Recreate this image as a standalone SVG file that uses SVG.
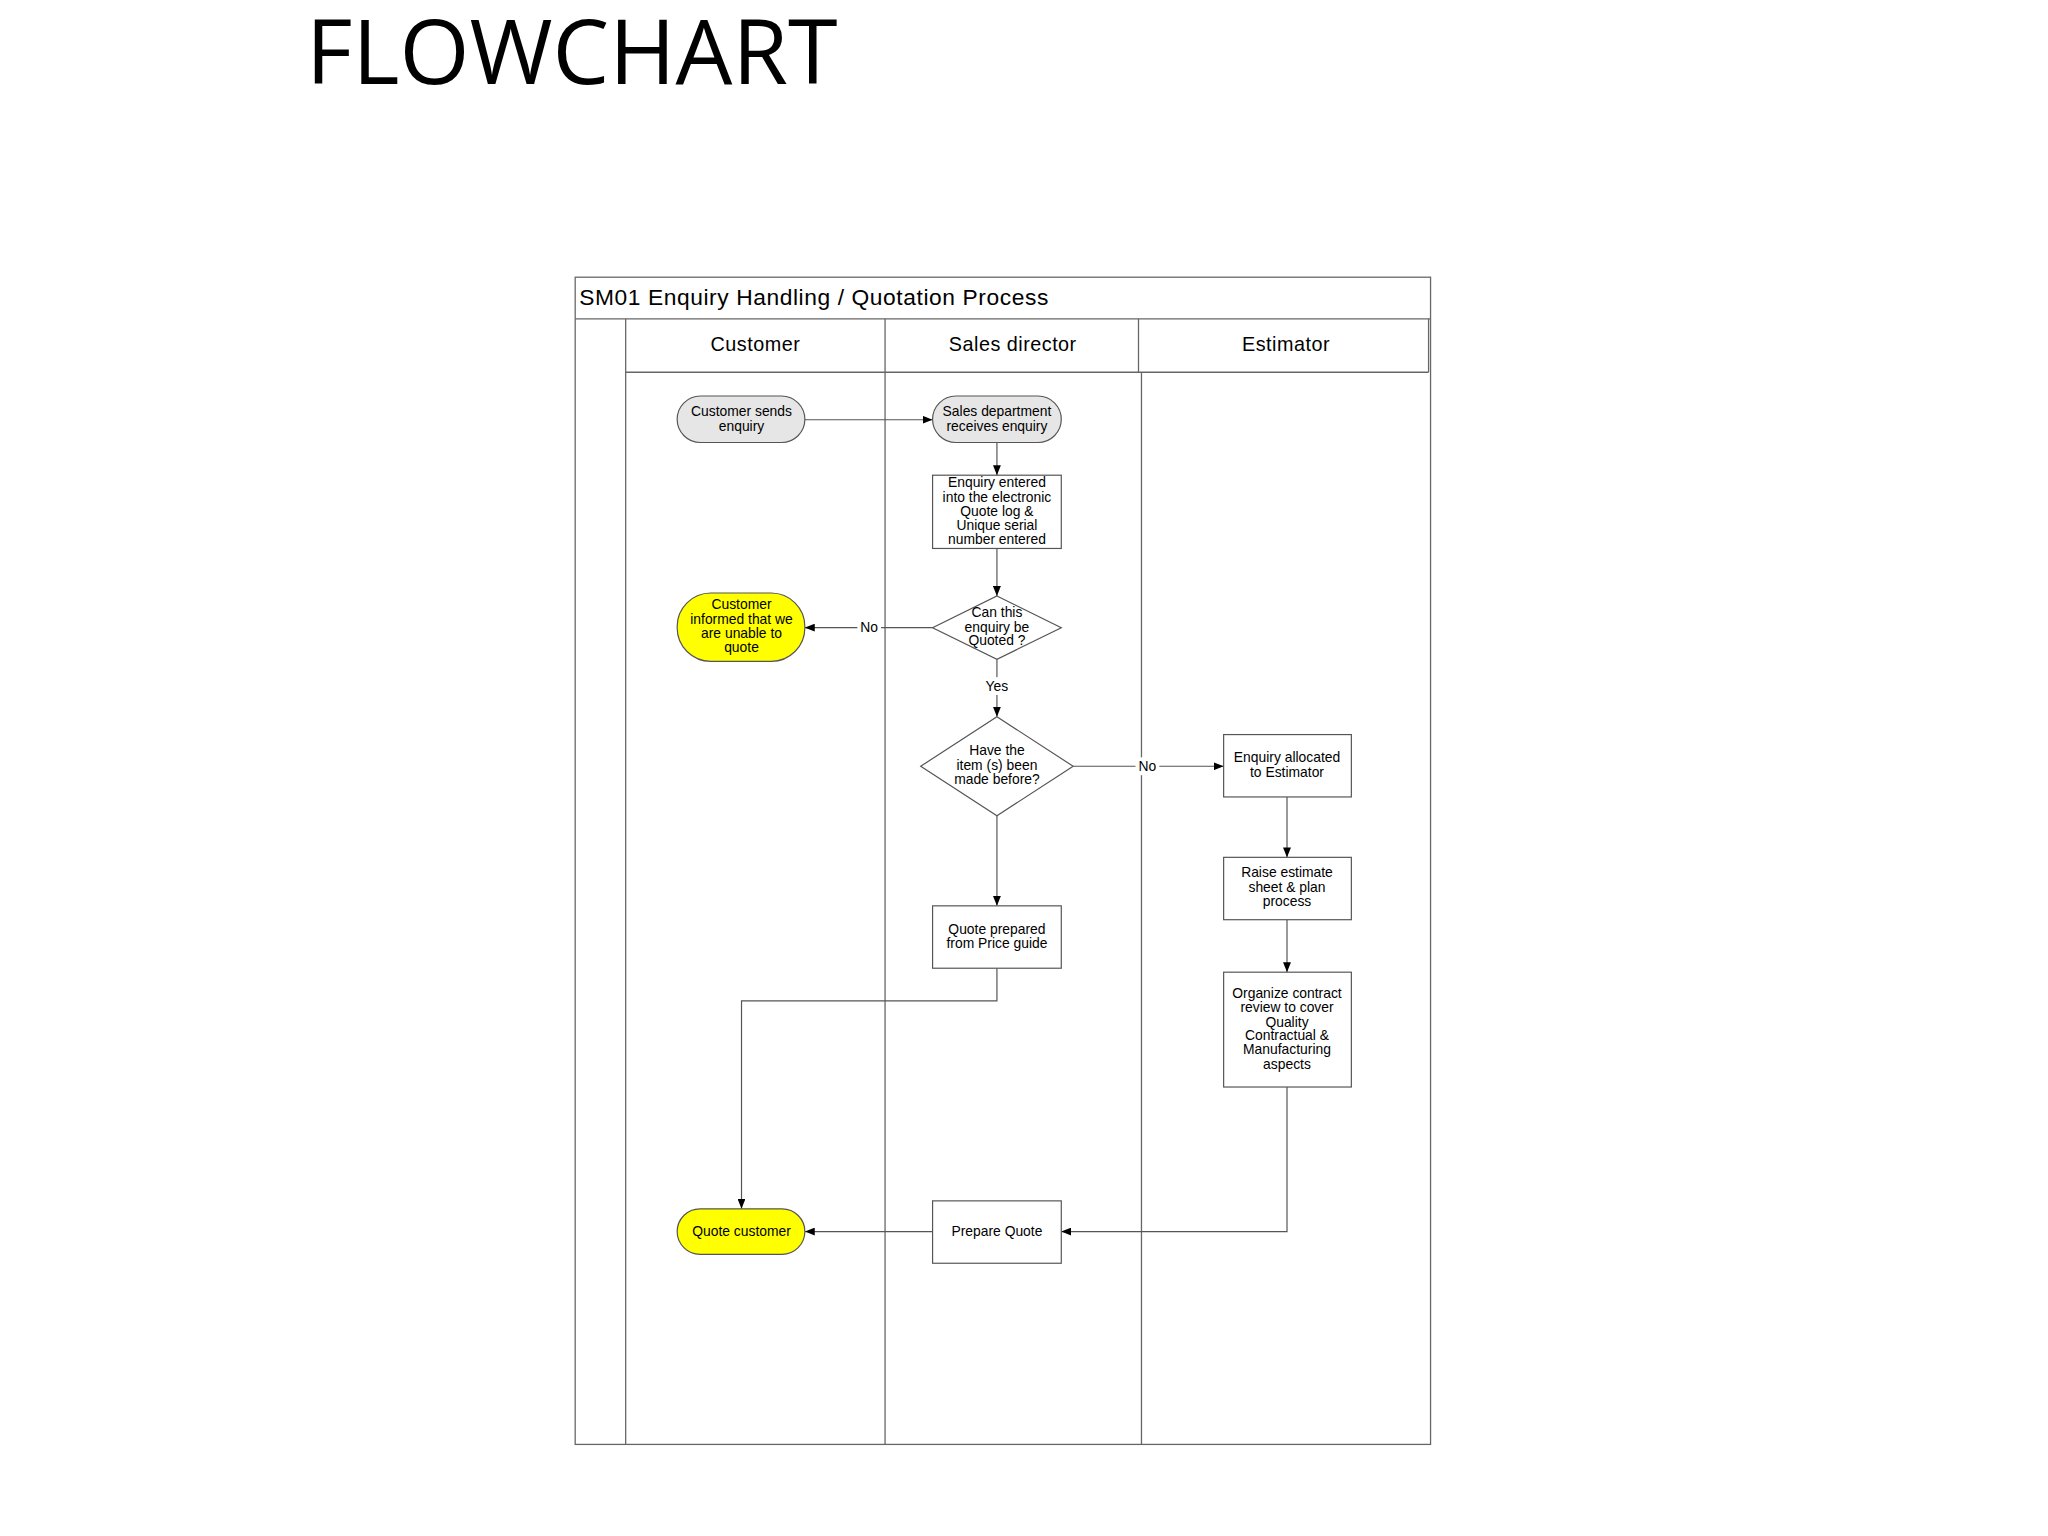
<svg xmlns="http://www.w3.org/2000/svg" width="2048" height="1536" viewBox="0 0 2048 1536">
<defs>
<marker id="ah" markerWidth="10" markerHeight="8" refX="10" refY="4" orient="auto" markerUnits="userSpaceOnUse"><path d="M0,0 L10,4 L0,8 z" fill="#000"/></marker>
<style>
.f{fill:none;stroke:#666;stroke-width:1.3}
.n{stroke:#555;stroke-width:1.2}
.t{font-family:"Liberation Sans",Arial,sans-serif;font-size:14px;fill:#000;text-anchor:middle}
.h{font-family:"Liberation Sans",Arial,sans-serif;font-size:20px;fill:#000;text-anchor:middle;letter-spacing:0.5px}
.c{fill:none;stroke:#555;stroke-width:1.2;marker-end:url(#ah)}
.l{font-family:"Liberation Sans",Arial,sans-serif;font-size:14px;fill:#000;text-anchor:middle}
</style>
</defs>
<rect width="2048" height="1536" fill="#fff"/>
<text x="306" y="84" font-family="Open Sans,Liberation Sans,sans-serif" font-size="90" fill="#000">FLOWCHART</text>
<g transform="scale(0.99)">
<g id="pool">
<rect class="f" x="581" y="280" width="864" height="1179"/>
<line class="f" x1="581" y1="322" x2="1445" y2="322"/>
<text x="585" y="308" font-family="Liberation Sans,Arial,sans-serif" font-size="23" letter-spacing="0.6">SM01  Enquiry Handling / Quotation Process</text>
<line class="f" x1="632" y1="376" x2="1443" y2="376"/>
<line class="f" x1="632" y1="322" x2="632" y2="1459"/>
<line class="f" x1="894" y1="322" x2="894" y2="1459"/>
<line class="f" x1="1150" y1="322" x2="1150" y2="376"/>
<line class="f" x1="1153" y1="376" x2="1153" y2="1459"/>
<line class="f" x1="1443" y1="322" x2="1443" y2="376"/>
<text class="h" x="763" y="355">Customer</text>
<text class="h" x="1023" y="355">Sales director</text>
<text class="h" x="1299" y="355">Estimator</text>
</g>
<g id="connectors">
<line class="c" x1="813" y1="424" x2="942" y2="424"/>
<line class="c" x1="1007" y1="447" x2="1007" y2="480"/>
<line class="c" x1="1007" y1="554" x2="1007" y2="602"/>
<line class="c" x1="942" y1="634" x2="813" y2="634"/>
<line class="c" x1="1007" y1="666" x2="1007" y2="724"/>
<line class="c" x1="1084" y1="774" x2="1236" y2="774"/>
<line class="c" x1="1007" y1="824" x2="1007" y2="915"/>
<polyline class="c" points="1007,978 1007,1011 749,1011 749,1221"/>
<line class="c" x1="1300" y1="805" x2="1300" y2="866"/>
<line class="c" x1="1300" y1="929" x2="1300" y2="982"/>
<polyline class="c" points="1300,1098 1300,1244 1072,1244"/>
<line class="c" x1="942" y1="1244" x2="813" y2="1244"/>
<rect x="866" y="625" width="24" height="18" fill="#fff"/><text class="l" x="878" y="638">No</text>
<rect x="992" y="684" width="30" height="18" fill="#fff"/><text class="l" x="1007" y="698">Yes</text>
<rect x="1147" y="765" width="24" height="18" fill="#fff"/><text class="l" x="1159" y="779">No</text>
</g>
<g id="n1"><rect class="n" x="684" y="400" width="129" height="47" rx="23.5" fill="#e6e6e6"/><text class="t" x="749" y="420">Customer sends</text><text class="t" x="749" y="435">enquiry</text></g>
<g id="n2"><rect class="n" x="942" y="400" width="130" height="47" rx="23.5" fill="#e6e6e6"/><text class="t" x="1007" y="420">Sales department</text><text class="t" x="1007" y="435">receives enquiry</text></g>
<g id="n3"><rect class="n" x="942" y="480" width="130" height="74" fill="#fff"/>
<text class="t" x="1007" y="492">Enquiry entered</text><text class="t" x="1007" y="507">into the electronic</text><text class="t" x="1007" y="521">Quote log &amp;</text><text class="t" x="1007" y="535">Unique serial</text><text class="t" x="1007" y="550">number entered</text></g>
<g id="n4"><polygon class="n" points="1007,602 1072,634 1007,666 942,634" fill="#fff"/>
<text class="t" x="1007" y="623">Can this</text><text class="t" x="1007" y="638">enquiry be</text><text class="t" x="1007" y="652">Quoted ?</text></g>
<g id="n5"><rect class="n" x="684" y="599" width="129" height="69" rx="34" fill="#ffff00"/>
<text class="t" x="749" y="615">Customer</text><text class="t" x="749" y="630">informed that we</text><text class="t" x="749" y="644">are unable to</text><text class="t" x="749" y="659">quote</text></g>
<g id="n6"><polygon class="n" points="1007,724 1084,774 1007,824 930,774" fill="#fff"/>
<text class="t" x="1007" y="763">Have the</text><text class="t" x="1007" y="778">item (s) been</text><text class="t" x="1007" y="792">made before?</text></g>
<g id="n7"><rect class="n" x="1236" y="742" width="129" height="63" fill="#fff"/><text class="t" x="1300" y="770">Enquiry allocated</text><text class="t" x="1300" y="785">to Estimator</text></g>
<g id="n8"><rect class="n" x="1236" y="866" width="129" height="63" fill="#fff"/><text class="t" x="1300" y="886">Raise estimate</text><text class="t" x="1300" y="901">sheet &amp; plan</text><text class="t" x="1300" y="915">process</text></g>
<g id="n9"><rect class="n" x="1236" y="982" width="129" height="116" fill="#fff"/>
<text class="t" x="1300" y="1008">Organize contract</text><text class="t" x="1300" y="1022">review to cover</text><text class="t" x="1300" y="1037">Quality</text><text class="t" x="1300" y="1051">Contractual &amp;</text><text class="t" x="1300" y="1065">Manufacturing</text><text class="t" x="1300" y="1080">aspects</text></g>
<g id="n10"><rect class="n" x="942" y="915" width="130" height="63" fill="#fff"/><text class="t" x="1007" y="943">Quote prepared</text><text class="t" x="1007" y="958">from Price guide</text></g>
<g id="n11"><rect class="n" x="942" y="1213" width="130" height="63" fill="#fff"/><text class="t" x="1007" y="1249">Prepare Quote</text></g>
<g id="n12"><rect class="n" x="684" y="1221" width="129" height="46" rx="23" fill="#ffff00"/><text class="t" x="749" y="1249">Quote customer</text></g>
</g>
</svg>
